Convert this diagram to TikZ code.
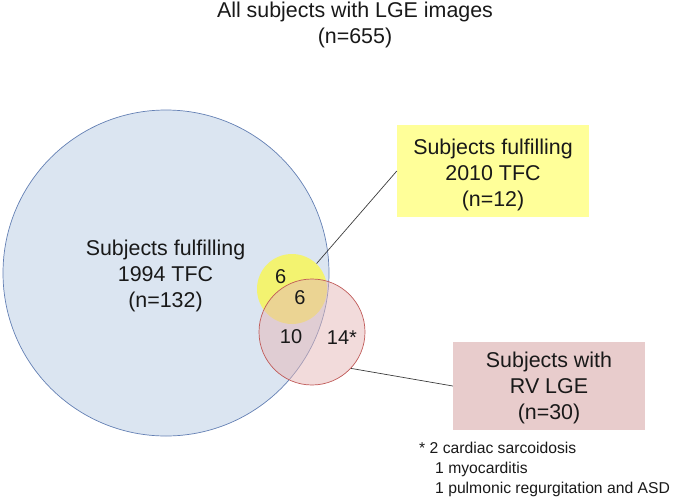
\documentclass[tikz,border=0pt]{standalone}
\usepackage{fontspec}
\setmainfont{Liberation Sans}
\definecolor{bluefill}{RGB}{219,229,241}
\definecolor{blueline}{RGB}{100,128,180}
\definecolor{yelfill}{RGB}{243,243,112}
\definecolor{yelbox}{RGB}{255,255,153}
\definecolor{redfill}{RGB}{229,183,183}
\definecolor{redline}{RGB}{192,90,88}
\definecolor{redbox}{RGB}{232,204,204}
\definecolor{leadgray}{RGB}{60,60,60}
\definecolor{ink}{RGB}{25,25,25}
\begin{document}
\begin{tikzpicture}[x=1pt,y=-1pt,
  txt/.style={font=\fontsize{21.4}{25.8}\selectfont, align=center, inner sep=0pt, text=ink},
  num/.style={font=\fontsize{20}{24}\selectfont, inner sep=0pt, text=ink},
  note/.style={font=\fontsize{15.7}{20}\selectfont, inner sep=0pt, anchor=base west, text=ink},
  setc/.style={circle, inner sep=0pt, line width=0.7pt},
  infobox/.style={rectangle, minimum width=192pt, minimum height=92pt, inner sep=0pt},
  lead/.style={draw=leadgray, line width=0.7pt}]
\useasboundingbox (0,0) rectangle (685,499);

% title
\node[txt] (title) at (355,25) {All subjects with LGE images\\(n=655)};

% circles
\node[setc, draw=blueline, fill=bluefill, minimum size=326pt] (blue) at (166,273) {};
\node[setc, fill=yelfill, minimum size=70pt] (yel) at (292,289) {};
\node[setc, draw=redline, fill=redfill, fill opacity=0.5, minimum size=106pt] (red) at (312,332) {};

% circle texts
\node[txt] (bluetext) at (165.5,276) {Subjects fulfilling\\1994 TFC\\(n=132)};
\node[num] (n6a) at (280.7,276.7) {6};
\node[num] (n6b) at (300,298) {6};
\node[num] (n10) at (291,337) {10};
\node[num] (n14) at (342,338) {14*};

% boxes
\node[infobox, fill=yelbox] (ybox) at (493,171) {};
\node[txt] (ytext) at (493,175) {Subjects fulfilling\\2010 TFC\\(n=12)};
\node[infobox, fill=redbox, minimum height=88pt] (rbox) at (549,386) {};
\node[txt] (rtext) at (549,388) {Subjects with\\RV LGE\\(n=30)};

% leaders
\draw[lead] (yel.46) -- (ybox.west);
\draw[lead] (red.-43) -- (rbox.west);

% footnote
\node[note] (fn1) at (419,453) {* 2 cardiac sarcoidosis};
\node[note] (fn2) at (435,473) {1 myocarditis};
\node[note] (fn3) at (435,493) {1 pulmonic regurgitation and ASD};
\end{tikzpicture}
\end{document}
